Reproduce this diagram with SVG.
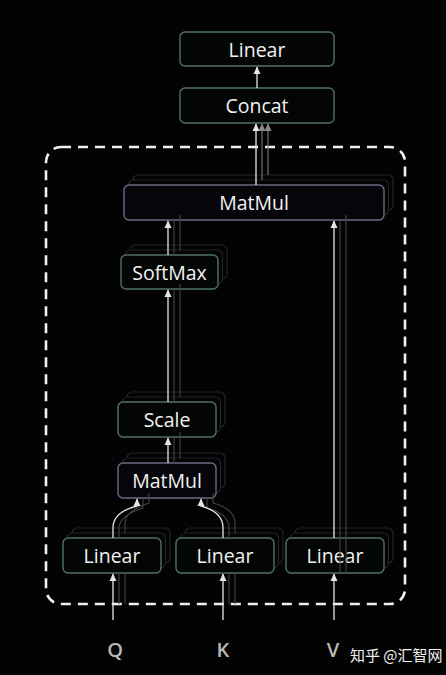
<svg xmlns="http://www.w3.org/2000/svg" width="446" height="675" viewBox="0 0 446 675">
<defs>
<marker id="ah" markerWidth="8" markerHeight="8" refX="7" refY="4" orient="auto" markerUnits="userSpaceOnUse" viewBox="0 0 8 8">
<path d="M0,0.5 L7.5,4 L0,7.5 Z" fill="#e6e6e6"/>
</marker>
<marker id="ahg" markerWidth="8" markerHeight="8" refX="7" refY="4" orient="auto" markerUnits="userSpaceOnUse" viewBox="0 0 8 8">
<path d="M0,0.5 L7.5,4 L0,7.5 Z" fill="#8a8a8a"/>
</marker>
<style>
.bg{fill:#030303}
.g{fill:#040605;stroke:#4f7366;stroke-width:1.4}
.p{fill:#05050a;stroke:#6d6a82;stroke-width:1.4}
.sh{fill:#030303;stroke:#1f2623;stroke-width:1.2}
.shp{fill:#030303;stroke:#25242c;stroke-width:1.2}
.t{font-family:"Open Sans","Noto Sans",sans-serif;font-size:19.5px;fill:#f2f2f2;text-anchor:middle;dominant-baseline:central}
.lab{font-family:"Open Sans","Noto Sans",sans-serif;font-size:20px;font-weight:600;fill:#b8b8b8;text-anchor:middle}
.w{font-family:"Noto Sans CJK SC",sans-serif;font-size:15px;fill:#f0f0f0}
.a{fill:none;stroke:#e6e6e6;stroke-width:1.3;marker-end:url(#ah)}
.ga{fill:none;stroke:#444;stroke-width:1.1}
.gam{fill:none;stroke:#777;stroke-width:1.1;marker-end:url(#ahg)}
.dash{fill:none;stroke:#f0f0f0;stroke-width:2.6;stroke-dasharray:10 7}
</style>
</defs>
<rect class="bg" x="0" y="0" width="446" height="675"/>

<rect class="dash" x="46" y="147" width="359" height="457" rx="15"/>

<g id="matmul-top">
<rect class="shp" x="133" y="175" width="260" height="35" rx="5"/>
<rect class="shp" x="128.5" y="180" width="260" height="35" rx="5"/>
<rect class="p" x="124" y="185" width="260" height="35" rx="5"/>
<text class="t" x="254" y="202.5">MatMul</text>
</g>

<g id="softmax">
<rect class="sh" x="130" y="245" width="97" height="34" rx="5"/>
<rect class="sh" x="125.5" y="250" width="97" height="34" rx="5"/>
<rect class="g" x="121" y="255" width="97" height="34" rx="5"/>
<text class="t" x="169.5" y="272">SoftMax</text>
</g>

<g id="scale">
<rect class="sh" x="127" y="392" width="98" height="35" rx="5"/>
<rect class="sh" x="122.5" y="397" width="98" height="35" rx="5"/>
<rect class="g" x="118" y="402" width="98" height="35" rx="5"/>
<text class="t" x="167" y="419.5">Scale</text>
</g>

<g id="matmul-small">
<rect class="shp" x="127" y="453" width="98" height="35" rx="5"/>
<rect class="shp" x="122.5" y="458" width="98" height="35" rx="5"/>
<rect class="p" x="118" y="463" width="98" height="35" rx="5"/>
<text class="t" x="167" y="480.5">MatMul</text>
</g>

<g id="linear-q">
<rect class="sh" x="72" y="528" width="98" height="35" rx="5"/>
<rect class="sh" x="67.5" y="533" width="98" height="35" rx="5"/>
<rect class="g" x="63" y="538" width="98" height="35" rx="5"/>
<text class="t" x="112" y="555.5">Linear</text>
</g>

<g id="linear-k">
<rect class="sh" x="185" y="528" width="98" height="35" rx="5"/>
<rect class="sh" x="180.5" y="533" width="98" height="35" rx="5"/>
<rect class="g" x="176" y="538" width="98" height="35" rx="5"/>
<text class="t" x="225" y="555.5">Linear</text>
</g>

<g id="linear-v">
<rect class="sh" x="295" y="528" width="98" height="35" rx="5"/>
<rect class="sh" x="290.5" y="533" width="98" height="35" rx="5"/>
<rect class="g" x="286" y="538" width="98" height="35" rx="5"/>
<text class="t" x="335" y="555.5">Linear</text>
</g>

<g id="linear-top">
<rect class="g" x="180" y="32" width="154" height="34" rx="5"/>
<text class="t" x="257" y="49">Linear</text>
</g>

<g id="concat">
<rect class="g" x="180" y="88" width="154" height="35" rx="5"/>
<text class="t" x="257" y="105.5">Concat</text>
</g>

<g id="connectors">
<path class="ga" d="M119,604 V573 M125,604 V573"/>
<path class="ga" d="M229,604 V573 M235,604 V573"/>
<path class="ga" d="M340,573 V220 M346,573 V215"/>
<path class="ga" d="M174,402 V289 M180,397 V284"/>
<path class="ga" d="M174,255 V220 M180,250 V215"/>
<path class="ga" d="M119,538 V528 Q119,516 143,508 V498 M125,533 V523 Q125,511 149,503 V493"/>
<path class="ga" d="M229,538 V528 Q229,514 207,508 V498 M235,533 V523 Q235,509 213,503 V493"/>
<path class="ga" d="M174,463 V437 M180,458 V432"/>
<path class="gam" d="M262,180 V124"/>
<path class="gam" d="M268,175 V124"/>
<path class="a" d="M113,620 V574"/>
<path class="a" d="M223,620 V574"/>
<path class="a" d="M334,620 V574"/>
<path class="a" d="M113,538 V528 Q113,512 137,506 V499"/>
<path class="a" d="M223,538 V528 Q223,512 201,506 V499"/>
<path class="a" d="M168,463 V438"/>
<path class="a" d="M168,402 V290"/>
<path class="a" d="M168,255 V221"/>
<path class="a" d="M334,538 V221"/>
<path class="a" d="M256,185 V124"/>
<path class="a" d="M257,88 V67"/>
</g>

<g id="labels">
<text class="lab" x="115" y="657">Q</text>
<text class="lab" x="223" y="657">K</text>
<text class="lab" x="333" y="657">V</text>
<text class="w" x="350" y="661">知乎 @汇智网</text>
</g>
</svg>
